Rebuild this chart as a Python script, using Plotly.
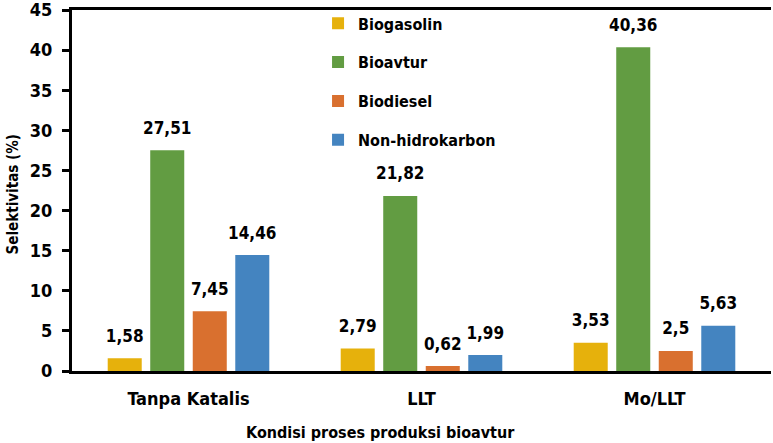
import plotly.graph_objects as go

categories = ["Tanpa Katalis", "LLT", "Mo/LLT"]
series_names = ["Biogasolin", "Bioavtur", "Biodiesel", "Non-hidrokarbon"]
biogasolin = [1.58, 2.79, 3.53]
bioavtur = [27.51, 21.82, 40.36]
biodiesel = [7.45, 0.62, 2.5]
non_hidrokarbon = [14.46, 1.99, 5.63]
y_ticks = [0, 5, 10, 15, 20, 25, 30, 35, 40, 45]

colors = ["#E6B10C", "#629C42", "#D9702F", "#4484C0"]
values = [biogasolin, bioavtur, biodiesel, non_hidrokarbon]

FONT = "DejaVu Sans Condensed, Liberation Sans Narrow, sans-serif"

fig = go.Figure()
for i, (name, vals, col) in enumerate(zip(series_names, values, colors)):
    fig.add_trace(go.Bar(
        x=categories, y=vals, name=f"<b>{name}</b>",
        marker=dict(color=col, line=dict(width=0)),
        offsetgroup=str(i), legendgroup=name,
    ))
for i, (name, vals) in enumerate(zip(series_names, values)):
    fig.add_trace(go.Scatter(
        x=categories, y=vals, mode="markers+text",
        text=[f"<b>{v:g}</b>".replace(".", ",") for v in vals],
        textposition="top center",
        textfont=dict(size=17, color="black", family=FONT),
        marker=dict(size=18, opacity=0),
        offsetgroup=str(i), showlegend=False, hoverinfo="skip",
        cliponaxis=False,
    ))

fig.update_layout(
    width=773, height=443,
    margin=dict(l=72, r=2, t=10, b=72),
    paper_bgcolor="white", plot_bgcolor="white",
    barmode="group", bargap=0.27, bargroupgap=0.2,
    scattermode="group", scattergap=0.27,
    font=dict(family=FONT, color="black", size=16),
    legend=dict(x=0.352, y=1.01, xanchor="left", yanchor="top",
                font=dict(size=16, family=FONT, color="black"),
                tracegroupgap=15, bgcolor="rgba(0,0,0,0)"),
    showlegend=True,
    annotations=[
        dict(text="<b>Kondisi proses produksi bioavtur</b>", xref="paper", yref="paper",
             x=0.441, y=-0.169, xanchor="center", yanchor="middle", showarrow=False,
             font=dict(size=16, family=FONT, color="black")),
        dict(text="<b>Selektivitas (%)</b>", xref="paper", yref="paper",
             x=-0.084, y=0.49, xanchor="center", yanchor="middle", showarrow=False,
             textangle=-90, font=dict(size=15, family=FONT, color="black")),
    ],
)
fig.update_xaxes(
    showline=True, linecolor="black", linewidth=3, mirror=True,
    ticks="", showgrid=False, automargin=False,
    tickvals=categories, ticktext=[f"<b>{c}</b>" for c in categories],
    tickfont=dict(size=18, family=FONT), ticklabelstandoff=9,
)
fig.update_yaxes(
    range=[0, 45], tickvals=y_ticks, ticktext=[f"<b>{t}</b>" for t in y_ticks],
    showline=True, linecolor="black", linewidth=3,
    ticks="outside", ticklen=7, tickwidth=3, tickcolor="black",
    showgrid=False, zeroline=False, automargin=False,
    ticklabeloverflow="allow",
    tickfont=dict(size=18, family=FONT), ticklabelstandoff=6,
)

fig.write_html("out.html", config={"displayModeBar": False},
               post_script="document.body.style.margin='0';document.body.style.overflow='hidden';")
